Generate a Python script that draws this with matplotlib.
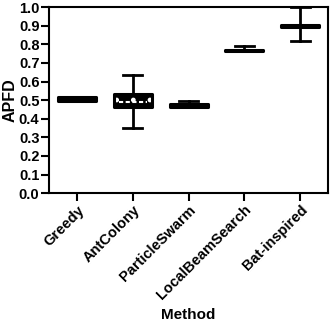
import matplotlib
matplotlib.use("Agg")
import matplotlib.pyplot as plt

plt.rcParams['font.family'] = ['Liberation Sans', 'DejaVu Sans']
plt.rcParams['font.weight'] = 'bold'

methods = ['Greedy', 'AntColony', 'ParticleSwarm', 'LocalBeamSearch', 'Bat-inspired']
whislo = [0.497, 0.35, 0.465, 0.762, 0.82]
q1 = [0.497, 0.465, 0.465, 0.762, 0.895]
med = [0.505, 0.49, 0.47, 0.767, 0.90]
q3 = [0.518, 0.532, 0.478, 0.772, 0.905]
whishi = [0.518, 0.635, 0.495, 0.792, 1.0]

stats = []
for i in range(len(methods)):
    stats.append({'label': methods[i], 'whislo': whislo[i], 'q1': q1[i],
                  'med': med[i], 'q3': q3[i], 'whishi': whishi[i], 'fliers': []})

fig = plt.figure(figsize=(3.32, 3.23), dpi=100)
ax = fig.add_axes([0.148, 0.402, 0.84, 0.576])

bp = ax.bxp(stats, positions=range(len(methods)), widths=0.68, patch_artist=True,
            showfliers=False,
            boxprops=dict(facecolor='black', edgecolor='black', linewidth=2.2,
                          joinstyle='round'),
            medianprops=dict(color='black', linewidth=2),
            whiskerprops=dict(color='black', linewidth=2),
            capprops=dict(color='black', linewidth=2),
            capwidths=0.34)
# Greedy has no visible whisker caps
bp['caps'][0].set_visible(False)
bp['caps'][1].set_visible(False)

# AntColony box: black with white dashed pattern
ant = bp['boxes'][1]
ant.set_hatch('.')
ant._hatch_color = (1, 1, 1, 1)
bp['medians'][1].set_color('white')
bp['medians'][1].set_linestyle((0, (2, 1.2)))
bp['medians'][1].set_linewidth(1.5)
bp['medians'][1].set_xdata([0.75, 1.25])

ax.set_xlim(-0.5, 4.5)
ax.set_ylim(0, 1.0)
ax.set_yticks([i / 10 for i in range(11)])
ax.set_yticklabels(['%.1f' % (i / 10) for i in range(11)], fontsize=10.5, fontweight='bold')
ax.set_xticks(range(len(methods)))
ax.set_xticklabels(methods, rotation=45, ha='right', rotation_mode='anchor',
                   fontsize=10.5, fontweight='bold')
ax.set_ylabel('APFD', fontsize=11.5, fontweight='bold', labelpad=1)
ax.set_xlabel('Method', fontsize=11, fontweight='bold')
for s in ax.spines.values():
    s.set_linewidth(1.5)
ax.tick_params(width=1.5, length=6, pad=1)

fig.savefig('out.png', dpi=100)
